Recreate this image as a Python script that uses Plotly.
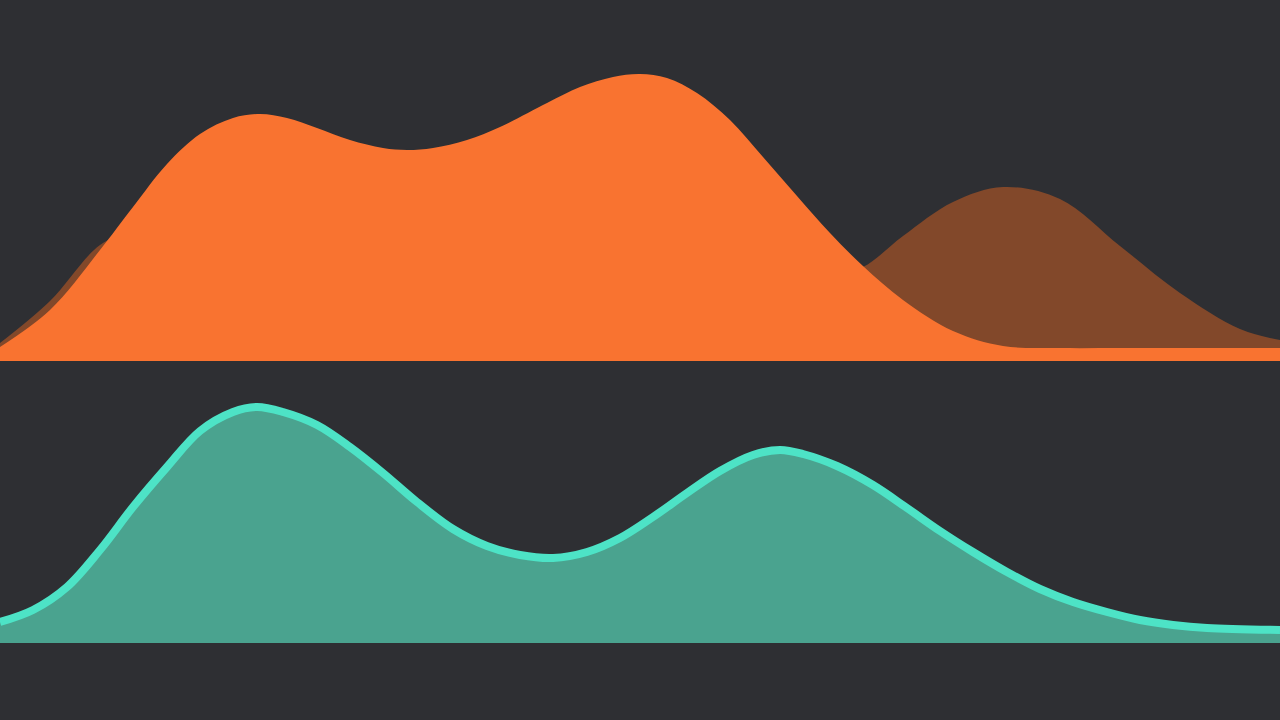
import plotly.graph_objects as go

# ---- data (heights above each panel's baseline) ----
x_top = [0, 0.5, 1.0, 1.33, 1.67, 2.0, 2.33, 2.6, 2.87, 3.17, 3.5, 3.83, 4.07, 4.33, 4.67,
         5.0, 5.47, 5.8, 6.13, 6.4, 6.67, 6.97, 7.3, 7.63, 7.97, 8.3, 8.63, 9.03, 9.53,
         10.03, 10.6, 11.2, 11.8, 12.4, 12.8]
orange_vals = [0.14, 0.51, 1.11, 1.54, 1.97, 2.27, 2.43, 2.47, 2.43, 2.33, 2.21, 2.13, 2.11, 2.13, 2.21,
               2.34, 2.58, 2.74, 2.84, 2.87, 2.83, 2.68, 2.41, 2.04, 1.65, 1.28, 0.95, 0.61, 0.30,
               0.15, 0.13, 0.13, 0.13, 0.13, 0.13]
brown_vals = [0.18, 0.60, 1.16, 1.30, 1.40, 1.45, 1.46, 1.45, 1.42, 1.38, 1.32, 1.26, 1.22, 1.18, 1.12,
              1.05, 0.96, 0.90, 0.84, 0.80, 0.77, 0.75, 0.76, 0.78, 0.82, 0.86, 0.94, 1.25, 1.59,
              1.74, 1.62, 1.15, 0.68, 0.32, 0.21]

x_bottom = [0, 0.33, 0.67, 1.0, 1.33, 1.67, 2.0, 2.33, 2.57, 2.83, 3.17, 3.5, 3.83, 4.17, 4.53,
            4.87, 5.2, 5.53, 5.87, 6.2, 6.53, 6.87, 7.2, 7.53, 7.8, 8.03, 8.37, 8.73, 9.07, 9.4,
            9.73, 10.07, 10.4, 10.73, 11.07, 11.4, 11.73, 12.07, 12.8]
teal_vals = [0.21, 0.33, 0.56, 0.93, 1.36, 1.76, 2.12, 2.31, 2.36, 2.31, 2.18, 1.96, 1.70, 1.41, 1.14,
             0.97, 0.88, 0.85, 0.91, 1.05, 1.26, 1.50, 1.72, 1.88, 1.93, 1.89, 1.77, 1.58, 1.35, 1.12,
             0.91, 0.71, 0.54, 0.41, 0.31, 0.23, 0.18, 0.15, 0.13]

BG = "#2e2f33"
ORANGE = "#f97330"
BROWN = "#82482a"
TEAL_LINE = "#4de3c6"
TEAL_FILL = "#4aa38f"

fig = go.Figure()

fig.add_trace(go.Scatter(x=x_top, y=brown_vals, mode="lines", fill="tozeroy",
                         fillcolor=BROWN, line=dict(color=BROWN, width=0, shape="spline", smoothing=1.0),
                         xaxis="x", yaxis="y", hoverinfo="skip"))
fig.add_trace(go.Scatter(x=x_top, y=orange_vals, mode="lines", fill="tozeroy",
                         fillcolor=ORANGE, line=dict(color=ORANGE, width=0, shape="spline", smoothing=1.0),
                         xaxis="x", yaxis="y", hoverinfo="skip"))
fig.add_trace(go.Scatter(x=x_bottom, y=teal_vals, mode="lines", fill="tozeroy",
                         fillcolor=TEAL_FILL, line=dict(color=TEAL_LINE, width=8, shape="spline", smoothing=1.0),
                         xaxis="x2", yaxis="y2", hoverinfo="skip"))

axis_off = dict(visible=False, showgrid=False, zeroline=False, showticklabels=False, fixedrange=True)

fig.update_layout(
    width=1280, height=720,
    margin=dict(l=0, r=0, t=0, b=0),
    paper_bgcolor=BG, plot_bgcolor=BG,
    showlegend=False,
    xaxis=dict(domain=[0, 1], range=[0, 12.8], anchor="y", **axis_off),
    yaxis=dict(domain=[1 - 361 / 720, 1], range=[0, 3.61], anchor="x", **axis_off),
    xaxis2=dict(domain=[0, 1], range=[0, 12.8], anchor="y2", **axis_off),
    yaxis2=dict(domain=[1 - 643 / 720, 1 - 361 / 720], range=[0, 2.82], anchor="x2", **axis_off),
)

fig.write_html(
    "out.html",
    config={"displayModeBar": False},
    post_script="document.body.style.margin='0';document.body.style.overflow='hidden';"
                f"document.body.style.background='{BG}';",
)
